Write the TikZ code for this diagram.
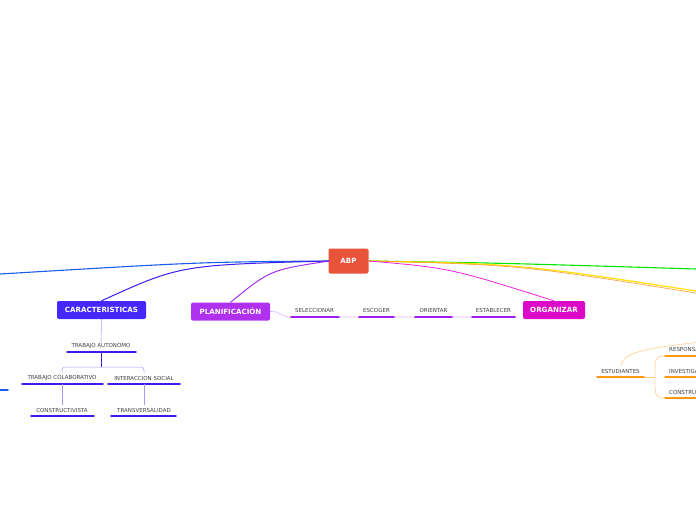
\documentclass[tikz,border=0pt]{standalone}
\usepackage{fontspec}
\setmainfont{DejaVu Sans}
\begin{document}
\begin{tikzpicture}[x=1pt,y=-1pt,
  main/.style={rounded corners=2pt,text=white,font=\bfseries\fontsize{7.1}{8}\selectfont,inner sep=0pt,minimum height=18pt},
  lbl/.style={font=\fontsize{5.5}{6}\selectfont,text=black!75,inner sep=0pt},
  bar/.style={line width=1.8pt,line cap=round}]
\useasboundingbox (0,0) rectangle (696,520);
\clip (0,0) rectangle (696,520);
\definecolor{cblue}{HTML}{1A5CF0}
\definecolor{cind}{HTML}{3A1EF0}
\definecolor{cpur}{HTML}{A020F0}
\definecolor{cmag}{HTML}{F020E0}
\definecolor{corg}{HTML}{FF9A10}
\node[main,fill={rgb,255:red,232;green,83;blue,58},minimum width=40pt,minimum height=25pt] (abp) at (348.5,261) {ABP};
\node[main,fill={rgb,255:red,70;green,40;blue,255},minimum width=89pt] (car) at (101.5,310) {CARACTERISTICAS};
\node[main,fill={rgb,255:red,176;green,48;blue,240},minimum width=79pt] (pla) at (230.5,311.5) {PLANIFICACIÓN};
\node[main,fill={rgb,255:red,220;green,10;blue,200},minimum width=62pt] (org) at (554,310) {ORGANIZAR};
\coordinate (al) at (329,261); \coordinate (ar) at (369,261);
\coordinate (e1) at (0,274); \coordinate (e2) at (696,269); \coordinate (e3) at (696,291); \coordinate (e4) at (696,293);
\draw[cblue,line width=1.1pt] (al) .. controls (200,262) .. (e1);
\draw[cind,line width=1pt] (al) .. controls (180,265) .. (car.north);
\draw[cpur,line width=0.9pt] (al) .. controls (270,270) .. (pla.north);
\draw[green!90!black,line width=1.1pt] (ar) .. controls (500,263) .. (e2);
\draw[yellow!85!orange,line width=1.2pt] (ar) .. controls (520,264) .. (e3);
\draw[orange!80,line width=0.6pt] (ar) .. controls (520,265) .. (e4);
\draw[cmag,line width=0.8pt] (ar) .. controls (450,268) .. (org.north);
% caracteristicas tree
\node[lbl] (ta) at (101,346) {TRABAJO AUTONOMO};
\node[lbl] (tc) at (62,378) {TRABAJO COLABORATIVO};
\node[lbl] (is) at (144,378) {INTERACCION SOCIAL};
\node[lbl] (co) at (62,410) {CONSTRUCTIVISTA};
\node[lbl] (tr) at (144,410) {TRANSVERSALIDAD};
\draw[cind!45,line width=0.5pt] (car.south) -- (101,342);
\draw[cind,bar] (67,352) -- (136,352);
\draw[cind,bar] (22,384) -- (103,384);
\draw[cind,bar] (108,384) -- (180,384);
\draw[cind,bar] (31,416) -- (94,416);
\draw[cind,bar] (111,416) -- (176,416);
\draw[cind,line width=0.6pt] (101,352) -- (101,367);
\draw[cind!45,line width=0.5pt] (62,373) -- (62,370) arc(180:270:3) -- (141,367) arc(270:360:3) -- (144,373);
\draw[cind!45,line width=0.5pt] (62,384) -- (62,405);
\draw[cind!45,line width=0.5pt] (144,384) -- (144,405);
\draw[cblue,bar] (-2,390) -- (8,390);
% planificacion
\node[lbl] (s1) at (314.5,310) {SELECCIONAR};
\node[lbl] (s2) at (376.5,310) {ESCOGER};
\node[lbl] (s3) at (433.5,310) {ORIENTAR};
\node[lbl] (s4) at (493.5,310) {ESTABLECER};
\draw[cpur!35,line width=0.6pt] (pla.east) .. controls (280,311) and (282,317) .. (290,317) -- (516,317);
\draw[cpur,bar] (291,317) -- (339,317);
\draw[cpur,bar] (359,317) -- (394,317);
\draw[cpur,bar] (415,317) -- (452,317);
\draw[cpur,bar] (472,317) -- (515,317);
% estudiantes
\node[lbl] (es) at (620.5,371) {ESTUDIANTES};
\node[lbl,anchor=west] (r1) at (669,349) {RESPONSABLES};
\node[lbl,anchor=west] (r2) at (669,371) {INVESTIGADORES};
\node[lbl,anchor=west] (r3) at (669,392) {CONSTRUCTORES};
\draw[corg!55,line width=0.5pt] (621,366) .. controls (622,350) and (660,347) .. (700,342);
\draw[corg,bar] (597,377) -- (644,377);
\draw[corg,bar] (665,356) -- (700,356);
\draw[corg,bar] (665,377) -- (700,377);
\draw[corg,bar] (665,398) -- (700,398);
\draw[corg!55,line width=0.5pt] (645,377) -- (655,377);
\draw[corg!55,line width=0.5pt] (664,356) .. controls (654,356) and (655,362) .. (655,377) .. controls (655,392) and (654,398) .. (664,398);
\end{tikzpicture}
\end{document}
